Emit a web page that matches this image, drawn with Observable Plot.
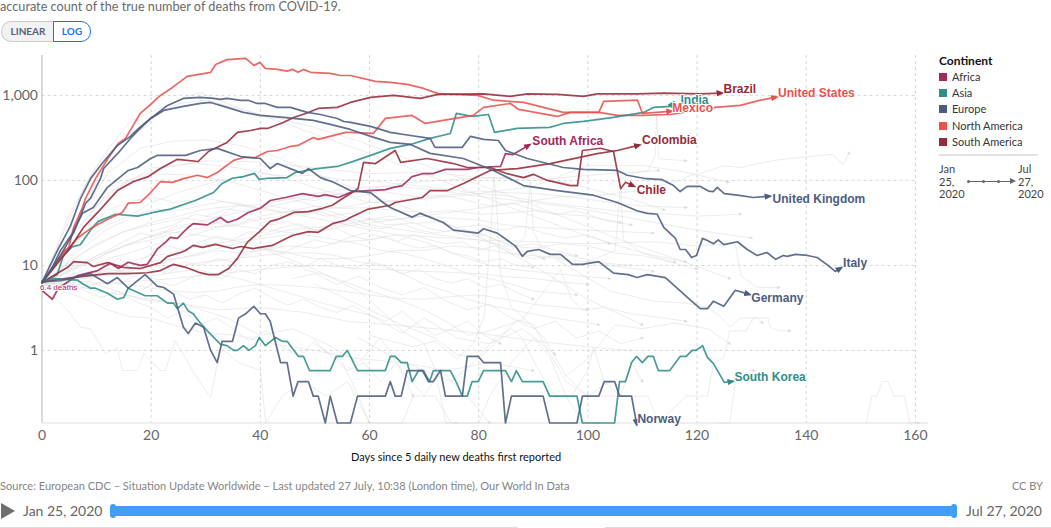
<!DOCTYPE html>
<html><head><meta charset="utf-8">
<script src="https://cdn.jsdelivr.net/npm/d3@7"></script>
<script src="https://cdn.jsdelivr.net/npm/@observablehq/plot@0.6"></script>
<style>
html,body{margin:0;padding:0;background:#fff;width:1051px;height:528px;overflow:hidden;font-family:Lato,sans-serif}
#wrap{position:relative;width:1051px;height:528px}
#wrap>div{position:absolute;white-space:nowrap}
#chart svg{display:block}
</style></head><body><div id="wrap"><div id="chart" style="left:0;top:0"></div></div>
<script>
// [days since 5 daily deaths, daily new deaths (7-day rolling)]
const unitedStates=[[0,6.3],[3.8,14.2],[4.9,16.3],[5.8,28],[7.4,48],[8,62],[9.8,105],[12.2,186],[14,272],[15.3,312],[18,614],[19.9,785],[21.7,1000],[23.9,1242],[26.6,1674],[30.9,1870],[31.8,2315],[33.9,2640],[37.3,2725],[38.8,2257],[39.9,2445],[40.9,2078],[43.1,2024],[44.9,1930],[45.9,2024],[46.9,1870],[47.9,2024],[49.2,1870],[52.8,1820],[54.7,1715],[56.5,1715],[61.1,1461],[63.8,1422],[66.9,1349],[69.9,1209],[72.6,1050],[79.8,1000],[82.7,879],[88.2,827],[95.5,631],[102,631],[105.4,582],[110.2,582],[115.1,597],[123.3,723],[127.9,763],[131.6,879],[134.3,947]];
const mexico=[[0,6.3],[3.4,12.4],[6.5,21],[9.2,28],[12,35],[14.7,42],[15.8,54],[18,55],[19.9,72],[21.7,97],[23.9,95],[25.9,105],[28.5,115],[30.3,108],[32.1,124],[35.1,172],[36.9,186],[39.1,186],[41.3,219],[43.1,225],[45.5,251],[46.9,258],[49.7,320],[50.6,304],[55.6,367],[56.5,367],[60.7,357],[62.9,537],[67.8,582],[70.2,468],[79,582],[80.9,723],[85.8,805],[87.3,684],[94.4,566],[96.8,631],[102,631],[102.9,850],[109.1,879],[110,614],[115.1,650]];
const brazil=[[0,6.3],[5.2,16.3],[7.6,28],[10.2,42],[13.8,76],[16.8,97],[19.5,111],[21.7,138],[24.8,177],[28.6,167],[30.5,219],[33.9,280],[35.8,367],[38.2,387],[40,409],[41.3,409],[44.2,481],[46.1,551],[48.3,614],[50.6,703],[54.1,723],[56.5,827],[60.2,947],[64.4,1000],[69.3,922],[72.6,1028],[80.9,1043],[85.8,973],[88.9,1043],[94.4,1028],[99.2,973],[101.7,1043],[109,1043],[113.9,1065],[120.6,1043],[124.3,1065]];
const colombia=[[0,6.3],[4.7,9.5],[5.8,11.1],[8.3,10.8],[9.4,9.7],[12,10.8],[14.9,9.5],[18,9.2],[21.7,10.8],[23,12.8],[25.4,14.2],[26.3,15],[27.7,17.2],[29.4,16.3],[31.8,17.7],[34.9,15.8],[36.4,16.7],[38.7,15.8],[42.2,17.2],[44,19.7],[45.9,22.5],[48.8,25],[50.6,24.5],[53.2,31],[55.6,34],[56.5,36.6],[59.6,45.6],[63.8,51],[64.7,55],[69.7,63],[71.1,76],[74.3,76],[77.2,92],[82.1,131],[87.1,138],[93.1,158],[101.7,207],[105.4,225],[109.2,258]];
const chile=[[0,6.3],[2.8,6.8],[7.1,7.4],[12,8],[15.7,8],[19.3,8.2],[21.7,8.7],[24.1,10.3],[26.3,9.5],[28.7,8.3],[30.5,7.8],[32.3,7.8],[34.2,9.2],[35.8,12.1],[37.6,18.7],[39.7,24.5],[41.8,33],[43.3,35],[46.1,42],[48.8,43],[51.4,47],[53.2,51],[55,61],[57.4,76],[57.9,80],[58.9,163],[61.1,158],[64.7,225],[65.7,163],[70.6,181],[75.4,158],[77.9,142],[82.1,142],[85.2,120],[88.2,108],[90,118],[92.6,100],[96.8,87],[98.1,87],[99,225],[102.3,239],[104.7,219],[106,80],[106.9,95],[108.2,87]];
const southAfrica=[[0,5.1],[1.9,4],[3,5.4],[6.5,7.6],[10.2,8.7],[12.5,10.6],[14,9.2],[15.8,10.9],[18,10],[19.3,10.3],[21.2,15.8],[22.6,18.7],[23.5,21.4],[24.8,20.8],[26.6,27.4],[27.7,31],[30.3,30],[32.7,36.6],[34,32],[35.8,34.9],[37.8,42],[40,47],[41.8,58],[44.6,63],[47.7,70],[50.6,65],[51.9,68],[54.3,63],[56.9,74],[60.2,76],[62.9,78],[64.4,83],[66,87],[67.8,111],[69.7,120],[71.5,120],[73.9,135],[77.9,135],[79.9,142],[84,146],[84.9,207],[86.2,201],[89.1,258]];
const india=[[0,6.3],[2.8,7.8],[3.9,13],[5.5,16.5],[7,17.5],[8.9,26],[10.3,33],[13.5,40],[17.5,38],[20.4,42],[23.5,46],[28.1,58],[31.4,72],[33,92],[34.9,106],[36.9,111],[38.9,121],[39.8,103],[41.3,106],[44.9,108],[46.4,124],[50.4,138],[54.1,146],[56.5,163],[60.2,197],[63.8,238],[67.5,265],[71.1,312],[74.8,357],[75.9,614],[78.8,566],[81.8,597],[82.9,367],[87,409],[93,421],[95.5,468],[99.2,494],[104.7,551],[110.2,631],[112,723],[115.1,743],[115.5,800]];
const southKorea=[[0,6.5],[2.2,7],[6.5,6.7],[7.6,6],[8.9,5.4],[9.8,5.4],[12,4.7],[13.8,4],[15,4.2],[15.8,5.4],[18.9,4.4],[21.1,4.4],[23,3.6],[24.1,3.6],[24.8,3.1],[25.9,3.6],[26.8,2.9],[27.7,2.7],[29,2.1],[30.3,1.7],[32.7,1.18],[33.9,1.14],[35.1,1],[35.8,1],[36.9,1.14],[37.9,1],[39.1,1.14],[39.8,1.42],[40.9,1.14],[42.8,1.42],[44,1.28],[44.9,1.28],[47,0.85],[47.9,0.85],[49,0.58],[52.8,0.58],[53.9,0.85],[55,0.85],[55.9,1],[56.5,0.85],[57.8,0.58],[62.9,0.58],[63.8,0.85],[64.7,0.85],[65.8,0.72],[66.9,0.72],[67.8,0.43],[69,0.58],[69.9,0.58],[71,0.43],[71.7,0.58],[74.8,0.58],[76,0.41],[77,0.29],[77.9,0.29],[78.8,0.43],[79.9,0.43],[80.9,0.58],[84.9,0.58],[86,0.43],[86.9,0.58],[88,0.43],[91.8,0.43],[93,0.29],[98,0.29],[99,0.14],[104.9,0.14],[105.8,0.43],[106.9,0.43],[108,0.72],[108.9,0.85],[110,0.72],[111,0.85],[112,0.85],[112.9,0.58],[115,0.58],[116.9,0.85],[118,0.85],[119.1,1],[119.7,1],[120.6,1.08],[121,1.14],[121.9,0.83],[123,0.7],[125,0.42],[126.3,0.43]];
const unitedKingdom=[[0,6.3],[3,15.8],[5.2,29],[7.1,62],[8.9,105],[11,158],[13.8,258],[16.2,330],[17.7,409],[19.9,536],[23,763],[25.9,922],[29,947],[31.4,922],[32.7,897],[33.9,922],[36.4,873],[37.9,873],[39.4,805],[40.9,805],[43.1,723],[45.5,723],[48.6,631],[51,597],[54.1,536],[55.3,494],[56.5,481],[60.2,432],[63.8,367],[67.5,338],[71.1,312],[72,245],[77,245],[78.5,330],[80.9,304],[83.6,295],[84.9,225],[88.9,181],[95.5,142],[99.2,135],[105.4,131],[107.2,115],[110.2,106],[113.6,102],[115.7,87],[116.9,74],[118.2,85],[120.6,85],[122.1,75],[123,74],[123.7,83],[125,70],[127.4,67],[130.3,63],[133.1,65]];
const italy=[[0,6.3],[3.4,13],[5.8,24.5],[8,54],[8.9,62],[10.7,105],[11.3,138],[14,212],[16.2,312],[18,409],[19.9,536],[22.3,666],[25.9,743],[29,805],[30.9,827],[33.9,723],[36.9,631],[40,582],[44.2,551],[49.7,508],[52.8,456],[56.5,398],[60.2,330],[63.8,280],[67.5,265],[71.1,208],[77.2,181],[82.7,131],[88.2,87],[94.4,76],[101,67],[105.4,55],[109,44],[110.9,41],[112.7,40],[113.9,28],[116,21],[116.9,15.4],[117.9,15.4],[119,12.4],[119.9,13.1],[121,20.8],[122,19.5],[123,18],[123.9,20],[124.9,17.6],[127.4,19],[129.2,15.4],[131,13.1],[132.8,14.2],[134.4,11.8],[135.8,13.1],[136.5,12.8],[138,13.5],[140.2,13.1],[142,12.4],[144,10],[145.3,8.5],[146.2,9.2]];
const germany=[[0,6.3],[1.6,8.7],[3.4,15],[5.6,24],[7.4,41],[9.4,48],[12,83],[15.8,131],[17.5,142],[19.9,181],[21.1,197],[26.3,197],[29,225],[32.1,238],[36.4,191],[40,181],[41.8,138],[43.1,158],[47.7,121],[48.8,138],[51,108],[53.4,95],[56.5,76],[60.2,72],[62.5,55],[63.8,48],[67.8,37],[69.3,41],[73.5,32],[75.4,26],[79.9,24],[80.9,27],[83.4,24],[86.7,17],[88,12.8],[88.9,14.6],[91,15.4],[93.1,13.5],[95,13.5],[97.2,10.3],[99,10.3],[102,11.1],[104.7,8.1],[107.4,7.8],[109,7.2],[110.9,7.8],[114.2,7.2],[118.8,3.9],[120.6,3.1],[121.9,3.1],[123,3.8],[124.9,3.3],[127,5.1],[129.4,4.6]];
const norway=[[0,6.5],[3.4,6.6],[8.9,8],[12,6.1],[13.8,7.2],[15.8,5.4],[18.9,7.8],[21.1,5.7],[22.3,5.5],[24.1,4.6],[25.9,1.87],[26.8,1.58],[28.1,2.1],[29.6,1.87],[30.9,1],[32.1,0.72],[33,1.28],[34.9,1.28],[36,2.4],[37.3,2.7],[38.8,3.3],[40,2.7],[40.9,2.7],[41.8,2.2],[43.7,0.72],[44.9,0.72],[46,0.29],[46.9,0.43],[48.8,0.43],[49.7,0.29],[50.6,0.29],[51.9,0.14],[52.8,0.29],[54.1,0.14],[56.5,0.14],[57.8,0.29],[62.9,0.29],[63.8,0.43],[64.7,0.29],[65.8,0.29],[66.9,0.58],[69.7,0.58],[70.8,0.43],[71.7,0.43],[73,0.58],[73.9,0.29],[77,0.29],[77.9,0.85],[79.9,0.85],[80.9,0.72],[84,0.72],[84.9,0.14],[86,0.29],[91.8,0.29],[93,0.14],[98,0.14],[99,0.29],[102,0.29],[103,0.43],[104.9,0.43],[105.8,0.29],[108,0.29],[108.9,0.14]];
// other countries, all in the muted grey
const others=[
[[0,6],[4,25],[8,90],[12,230],[16,480],[20,640],[23,760],[26,950],[29,1080],[33,850],[38,640],[44,480],[50,350],[58,230],[66,150],[74,95],[82,60],[90,38],[100,22],[110,14],[118,11]],
[[0,6],[5,40],[10,150],[15,330],[19,430],[21,620],[25,800],[30,880],[36,700],[42,560],[50,420],[58,290],[66,190],[76,110],[86,65],[96,36],[106,20],[116,12],[126,7]],
[[0,6],[6,30],[12,120],[18,240],[24,290],[30,300],[36,260],[42,200],[50,120],[60,70],[70,40],[80,22],[90,10],[100,4],[110,2]],
[[0,6],[6,25],[12,70],[20,140],[28,160],[36,140],[44,110],[52,75],[60,55],[70,60],[80,70],[90,85],[100,150],[110,150],[118,125],[125.7,95]],
[[0,6],[5,20],[10,50],[15,95],[22,140],[30,170],[40,165],[50,140],[60,120],[70,125],[80,110],[90,100],[100,115],[113,131]],
[[0,6],[3,10],[6,15],[9,22],[12,30],[16,38],[20,55],[25,72],[30,90],[35,108],[40,120],[45,112],[50,115],[55,102],[60,100],[65,92],[70,85],[75,78],[80,70],[85,66],[90,58],[95,52],[100,48],[105,44],[110,42],[120,38],[128,40]],
[[0,6],[5,15],[10,40],[15,90],[20,120],[28,115],[35,95],[42,70],[50,50],[60,30],[70,24],[80,20],[90,19],[100,18],[112,19],[120,17],[127,18],[128,7.6],[131,5.5],[135,5.5]],
[[0,6],[5,9],[10,12],[15,17],[20,20],[25,25],[30,28],[35,29],[40,35],[45,38],[50,45],[55,48],[60,55],[65,58],[70,65],[75,68],[80,75],[85,72],[90,70],[95,66],[100,60],[105,54],[110,50],[118,48]],
[[0,6],[4,7],[8,9],[12,12],[16,14],[20,17],[24,20],[28,23],[32,28],[36,31],[40,38],[45,43],[50,50],[55,47],[60,48],[65,44],[70,42],[75,44],[80,40],[85,41],[90,44],[95,40],[100,38],[104,33],[108,30]],
[[0,6],[4,7],[8,8],[12,9],[16,11],[20,13],[24,14],[28,17],[32,18],[36,20],[40,22],[45,26],[50,28],[55,30],[60,34],[65,35],[70,38],[75,36],[80,34],[85,30],[90,28],[95,27],[100,26],[106,25],[112,24]],
[[0,6],[4,6.5],[8,7],[12,8],[16,9],[20,11],[24,12],[28,13],[32,15],[36,14],[40,15],[45,17],[50,16],[55,19],[60,20],[65,23],[70,22],[75,21],[80,20],[85,17],[90,16],[95,18],[100,17],[105,14],[110,13],[116,11]],
[[0,6],[6,7],[10,7.5],[14,8],[18,9],[22,10],[26,10],[30,11],[35,12],[40,13],[45,14],[50,12],[55,12],[60,13],[65,15],[70,15],[75,17],[80,16],[85,14],[90,13],[95,12],[100,11],[108,10]],
[[0,6],[4,6],[8,6],[12,6.2],[16,6.5],[20,6.7],[24,7],[28,7.5],[32,8],[36,8.4],[40,9],[45,9.5],[50,10],[55,9.6],[60,9],[65,8.8],[70,8.5],[75,8.3],[80,8],[85,7.4],[90,7],[95,6.4],[100,6]],
[[0,6],[4,6.2],[8,6.5],[12,6.1],[16,6],[20,5.4],[24,5],[28,4.8],[32,5],[36,5.6],[40,6],[45,5.8],[50,5.5],[55,5],[60,4.5],[65,4.1],[70,4],[75,4.3],[80,4.5],[85,4],[90,3.5],[100,3]],
[[0,6],[5,6],[10,5],[15,4.5],[20,4],[26,3.5],[32,3],[40,3.2],[48,2.8],[56,2.2],[64,2],[72,1.8],[80,1.6],[90,1.3],[100,1.1],[108,1]],
[[0,6],[4,5],[8,4],[12,3],[16,2.5],[20,2.4],[24,2],[30,1.6],[36,1.5],[42,1.2],[50,1],[58,0.8],[66,0.72],[74,0.58],[82,0.72],[90,0.58]],
[[0,6],[4.7,2.96],[7.1,1.87],[8.9,1.8],[11.6,0.92],[13.8,1.08],[14.7,0.58],[17.5,0.58],[18.6,0.92],[21.7,0.58],[22.6,0.58],[24.4,1.3],[28.7,0.44],[30.9,0.28],[32.7,1.08],[36,0.72],[40,0.58],[41,0.14],[44,0.29],[48,0.43],[52,0.29],[56,0.43],[60,0.14]],
[[0,6],[3,11],[6,18],[9,28],[12,45],[15,52],[18,60],[21,63],[24,55],[27,58],[30,62],[34,55],[38,48],[42,44],[46,40],[50,36],[54,32],[58,28],[62,25],[66,22],[70,19],[74,15],[78,12],[82,10],[86,9],[94,8],[104,7]],
[[0,6],[3,9],[6,12],[9,16],[12,20],[15,25],[18,28],[22,32],[26,36],[30,33],[34,30],[38,28],[42,26],[46,24],[50,22],[54,20],[58,18],[62,15],[66,14],[70,12],[74,10],[78,8],[82,7],[86,6],[90,5],[98,4.5]],
[[0,6],[4,8],[7,10],[10,13],[14,16],[18,20],[22,25],[26,24],[30,22],[34,20],[38,18],[42,15],[46,14],[50,14],[54,13],[58,11],[62,10],[66,8],[70,6],[74,5],[78,4],[82,3.4],[86,3],[94,2.4],[102,2]],
[[0,6],[6,7],[12,9],[20,7.5],[28,9],[36,7],[44,5],[52,3.5],[60,2.6],[66,1.6],[70,2.4],[76,1.4],[82,1.2],[88,1.8],[94,0.9]],
[[0,6],[5,5],[10,6],[18,4],[26,3.5],[34,2.4],[40,1.5],[46,1.8],[52,1.2],[58,0.72],[62,1.4],[66,0.58],[70,0.29],[73,0.58],[78,0.29],[82,0.14]],
[[0,6],[5,11],[10,18],[15,25],[20,32],[25,38],[30,46],[35,50],[40,52],[45,60],[50,70],[55,78],[60,85],[65,84],[70,80],[75,72],[80,65],[85,60],[90,55],[95,50],[100,45],[105,39],[110,34],[120,26],[130,21]],
[[0,6],[6,9],[12,14],[18,20],[24,26],[30,34],[36,42],[42,50],[48,60],[53,67],[58,75],[63,86],[68,95],[73,100],[78,105],[83,108],[88,110],[93,100],[98,88],[103,72],[108,60],[114,45]],
[[0,6],[7,7.6],[20,10],[38,19.7],[56.5,29.5],[71,39],[84,51],[95,64],[102.3,67],[109.6,76],[117,100],[118.8,115],[120.6,121],[124.8,148],[128,142],[134,172],[140.2,190],[144.8,203],[146.8,155],[147.9,212]],
[[82,19],[86,15],[88.5,22],[89.5,100],[90,25],[92,14],[97,13],[104,10],[112,8.5]],
[[60,1.5],[68,1.1],[72,1.3],[76,0.8],[79,1.2],[81,2.5],[82.3,30],[82.8,110],[83.2,60],[84,8],[86,3.2],[88,2.5],[92,1.4],[96,0.5],[100,0.29]],
[[100,11],[105,15],[106,90],[106.5,20],[110,14],[115,11],[120,9]],
[[104,90],[108,120],[111,130],[112.3,190],[112.6,600],[113,180],[118,170]],
[[50,1.2],[55,0.72],[58,0.29],[60,0.14],[66,0.14],[68,0.29],[72,0.29],[75,0.14],[80,0.14],[82,0.29],[86,0.72],[90,1.4],[93,0.85],[96,0.29],[99,0.14],[102,0.14]],
[[50,6],[60,3],[66,2],[72,1.4],[76,0.9],[80,0.8],[84,1.4],[87,2.3],[90,2],[92,1.2],[94,0.72],[96,0.43],[100,0.29],[104,0.43]],
[[58,1.4],[64,0.85],[70,0.58],[75,0.43],[79,0.72],[83,1.4],[86,1.8],[88,1.4],[91,0.58],[94,0.29],[97,0.29],[100,0.58],[101,1.1],[103,0.43],[106,0.29],[108,0.72],[110,0.43]],
[[48,9],[54,7],[60,5],[65,4],[70,3],[74,2.2],[78,1.5],[82,1.7],[88,2.3],[92,5],[95,9],[97,4],[99,3],[103,3.2],[108,2.7],[114,2.4],[118,2.2]],
[[96,0.5],[100,0.8],[105,2],[110,1.8],[116,2.1],[122,1.8],[126,1.2]],
[[40,16],[50,9],[58,5],[62,3],[66,1.7],[70,1.2],[72,0.6],[74,0.14],[76,0.14]],
[[100,0.29],[111,0.29],[113,0.14],[118,0.29],[120.6,0.29],[121.9,0.29],[123,0.7],[124.9,0.83],[126,1.7],[129,1.7],[130.3,2.4],[133,2.4],[133.4,1.87],[135,1.7],[137,1.7]],
[[94,12],[104,5],[112,3.8],[118,3.6],[122,3.2],[124,2.6],[126,1.9],[128,2.4],[131,2.4],[132,2.1]],
[[124,0.14],[126,0.14],[127,0.43],[129.5,0.58],[130.5,0.58]],
[[151,0.14],[152,0.29],[153,0.29],[153.9,0.43],[155,0.43],[156,0.29],[158,0.29],[159,0.14],[160.7,0.14]],
[[0,6],[3,8],[6,14],[9,19],[12,27],[15,33],[18,41],[21,46],[24,44],[27,47],[30,52],[33,56],[36,54],[39,48],[42,50],[45,46],[48,41],[51,43],[54,37],[57,33],[60,35],[63,30],[66,31],[69,26],[72,24],[75,26],[78,22],[81,23],[84,19],[87,17],[90,18],[94,15],[98,13]],
[[0,6],[3,7],[6,10],[9,12],[12,15],[15,19],[18,24],[21,22],[24,28],[27,31],[30,29],[33,33],[36,36],[39,34],[42,30],[45,33],[48,28],[51,25],[54,27],[57,22],[60,20],[63,22],[66,18],[69,16],[72,17],[75,14],[78,13],[81,11],[84,12],[87,10],[90,9.5]],
[[8,6],[11,9],[14,12],[17,10],[20,14],[23,17],[26,15],[29,19],[32,22],[35,20],[38,25],[41,24],[44,28],[47,31],[50,26],[53,30],[56,33],[59,29],[62,27],[65,30],[68,32],[71,27],[74,25],[77,27],[80,24],[84,19],[88,15],[92,12]],
[[14,6],[17,7.5],[20,9],[23,8],[26,11],[29,10],[32,12],[35,11],[38,14],[41,16],[44,14],[47,17],[50,20],[53,18],[56,21],[59,24],[62,22],[65,19],[68,23],[71,20],[74,18],[77,19],[80,15],[83,17],[86,14],[90,12],[94,13],[98,10]],
[[18,5],[21,6.5],[24,5.8],[27,7],[30,8],[33,7],[36,9],[39,8],[42,10],[45,11],[48,9.5],[51,12],[54,10],[57,9],[60,11],[63,10],[66,8],[69,9],[72,7],[75,6.2],[78,7],[81,5.5],[84,6],[87,4.8],[90,4]],
[[24,5],[27,4],[30,4.5],[33,3.6],[36,4.6],[39,5.4],[42,4.2],[45,3.4],[48,4],[51,3.2],[54,2.8],[57,3.4],[60,2.6],[63,2.2],[66,2.9],[69,2],[72,1.5],[75,1.8],[78,2.2],[81,1.5],[84,1.2]],
[[5,6],[8,5],[11,4.2],[14,5],[17,3.8],[20,3.2],[23,2.4],[26,2.9],[29,2],[32,2.4],[35,1.8],[38,1.3],[41,1.7],[44,1.1],[47,0.85],[50,1.3],[53,0.85],[56,0.58],[59,0.72],[62,0.43],[65,0.72],[68,0.29]],
[[30,38],[34,46],[38,42],[42,55],[46,62],[50,58],[54,70],[58,64],[62,75],[66,68],[70,62],[74,66],[78,58],[82,50],[86,54],[90,46],[94,40],[98,44],[102,36],[106,32]],
[[20,25],[24,30],[28,40],[32,36],[36,52],[40,48],[44,42],[48,45],[52,38],[56,41],[60,35],[64,38],[68,31],[72,33],[76,28],[80,30],[84,26],[88,29],[92,24],[96,21],[100,23],[104,18]],
[[46,7],[50,8],[54,6],[58,7.5],[62,5.5],[66,4.5],[70,5.5],[74,3.8],[78,3],[82,3.5],[86,2.4],[90,1.8],[94,2.2],[98,1.4],[102,1.7],[106,1.2],[110,1.4]]
];
const highlighted=[
 ["United States",unitedStates,"North America"],["India",india,"Asia"],["Mexico",mexico,"North America"],["Brazil",brazil,"South America"],["Colombia",colombia,"South America"],["Chile",chile,"South America"],["South Africa",southAfrica,"Africa"],["South Korea",southKorea,"Asia"],["United Kingdom",unitedKingdom,"Europe"],["Italy",italy,"Europe"],["Germany",germany,"Europe"],["Norway",norway,"Europe"]];
const continents=["Africa","Asia","Europe","North America","South America"];
const continentColors=["#a0285b","#2f8e8a","#4c5c7e","#e8524e","#952b3a"];
const xTicks=[0,20,40,60,80,100,120,140,160];
const yTicks=[1,10,100,1000];
const color=d3.scaleOrdinal(continents,continentColors);
const rows=d=>d.map(([day,deaths])=>({day,deaths}));
const labelOffset={"United States":[3,-4],"Mexico":[2,-3],"Brazil":[3,-4],"Colombia":[4,-5],"Chile":[4,5],"South Africa":[4,-4],"India":[8,-4],"South Korea":[3,-4],"United Kingdom":[4,3],"Italy":[3,-5],"Germany":[3,4],"Norway":[1,-4]};
const arrowHead=size=>(c,context)=>{
  const m=d3.select(context.document.createElementNS("http://www.w3.org/2000/svg","marker"))
    .attr("viewBox","-5 -5 10 10").attr("markerUnits","userSpaceOnUse")
    .attr("markerWidth",size).attr("markerHeight",size).attr("orient","auto");
  m.append("path").attr("d","M-5,-4L5,0L-5,4Z").attr("fill",c).attr("stroke","none");
  return m.node();
};
const W=1051,H=470;
const plot=Plot.plot({
 width:W,height:H,marginLeft:41.5,marginRight:123,marginTop:55,marginBottom:47.5,
 style:{fontFamily:"Lato",background:"transparent",overflow:"visible"},
 x:{domain:[0,162.4]},
 y:{type:"log",domain:[0.14,2950]},
 marks:[
  Plot.ruleY(yTicks,{x1:0,x2:160.5,stroke:"#d6d6d6",strokeDasharray:"3,3"}),
  Plot.ruleX(xTicks.slice(1),{stroke:"#d6d6d6",strokeDasharray:"3,3"}),
  Plot.ruleY([0.14],{stroke:"#ddd"}),
  Plot.ruleX([0],{stroke:"#ccc",strokeWidth:1.5}),
  Plot.axisX({ticks:xTicks,tickSize:0,tickPadding:7,label:null,fontSize:14,anchor:"bottom",fill:"#666"}),
  Plot.axisY({ticks:yTicks,tickSize:0,tickPadding:4,label:null,fontSize:14,fill:"#666",tickFormat:d3.format(",")}),
  ...others.map(d=>Plot.line(rows(d),{x:"day",y:"deaths",stroke:"#dcdcdc",strokeWidth:0.8,strokeOpacity:0.7,markerEnd:arrowHead(4),curve:"linear"})),
  ...highlighted.map(([n,d,c])=>Plot.line(rows(d),{x:"day",y:"deaths",stroke:color(c),strokeWidth:1.7,strokeOpacity:0.88,markerEnd:arrowHead(8),curve:"linear"})),
  ...highlighted.map(([n,d,c])=>Plot.text([d[d.length-1]],{x:"0",y:"1",text:()=>n,textAnchor:"start",dx:labelOffset[n][0],dy:labelOffset[n][1],fill:color(c),fontFamily:"Liberation Sans",fontWeight:"bold",fontSize:12,stroke:"#fff",strokeWidth:2,paintOrder:"stroke"})),
  Plot.text([{day:0,deaths:5.7,t:"6.4 deaths"}],{x:"day",y:"deaths",text:"t",textAnchor:"start",dx:-2,dy:1,fill:"#a0285b",fontFamily:"Liberation Sans",fontSize:8,stroke:"#fff",strokeWidth:2,paintOrder:"stroke"})
 ]});
document.getElementById("chart").append(plot);
const wrap=document.getElementById("wrap");
function add(css,html){const e=document.createElement("div");e.style.cssText=css;if(html!=null)e.innerHTML=html;wrap.append(e);return e;}
add("left:0;top:-2px;font-size:12.7px;line-height:16px;color:#6a6a6a","accurate count of the true number of deaths from COVID-19.");
add("left:1px;top:21px;width:52px;height:19px;border:1px solid #ccc;border-right:none;border-radius:10px 0 0 10px;background:#f2f2f2;color:#51607f;font-size:10px;font-weight:700;line-height:19px;text-align:center","LINEAR");
add("left:53px;top:21px;width:36px;height:19px;border:1px solid #1a73e8;border-radius:0 10px 10px 0;background:#fff;color:#1a73e8;font-size:10px;font-weight:700;line-height:19px;text-align:center","LOG");
add("left:351px;top:450px;font-size:11px;line-height:14px;color:#111","Days since 5 daily new deaths first reported");
// legend
add("left:939px;top:53px;font-size:12px;font-weight:700;line-height:15px;color:#111","Continent");
[71,87,103,120,136].forEach((y,i)=>{
 add(`left:939px;top:${y+2}px;width:8px;height:8px;background:${continentColors[i]}`);
 add(`left:952px;top:${y-1}px;font-size:11px;line-height:14px;color:#333`,continents[i]);
});
add("left:939px;top:154px;width:99px;height:2px;background:#e2e2e2");
add("left:939px;top:163px;font-size:11px;line-height:12.5px;color:#444;white-space:normal;width:30px","Jan<br>25,<br>2020");
add("left:1018px;top:163px;font-size:11px;line-height:12.5px;color:#444;white-space:normal;width:30px","Jul<br>27,<br>2020");
add("left:968px;top:181px;width:44px;height:1px;background:#666");
[967,982,997].forEach(x=>add(`left:${x}px;top:180px;width:3px;height:3px;border-radius:50%;background:#666`));
add("left:1010px;top:178px;width:0;height:0;border-left:6px solid #666;border-top:3.5px solid transparent;border-bottom:3.5px solid transparent");
// footer
add("left:0;top:479px;font-size:11.05px;line-height:14px;color:#858585","Source: European CDC – Situation Update Worldwide – Last updated 27 July, 10:38 (London time), Our World In Data");
add("right:8px;top:479px;font-size:11px;line-height:14px;color:#858585","CC BY");
add("left:1px;top:503px;width:0;height:0;border-left:14px solid #6e6e6e;border-top:8px solid transparent;border-bottom:8px solid transparent");
add("left:23px;top:502px;font-size:14px;line-height:18px;color:#666","Jan 25, 2020");
add("left:112px;top:506px;width:844px;height:10px;background:#3f9ef8");
add("left:110px;top:504px;width:6px;height:14px;border-radius:3px;background:#3f9ef8");
add("left:951px;top:504px;width:6px;height:14px;border-radius:3px;background:#3f9ef8");
add("left:966px;top:502px;font-size:14px;line-height:18px;color:#666","Jul 27, 2020");
add("left:0;top:527px;width:518px;height:1px;background:#ddd");
add("left:605px;top:527px;width:446px;height:1px;background:#ddd");
</script></body></html>
